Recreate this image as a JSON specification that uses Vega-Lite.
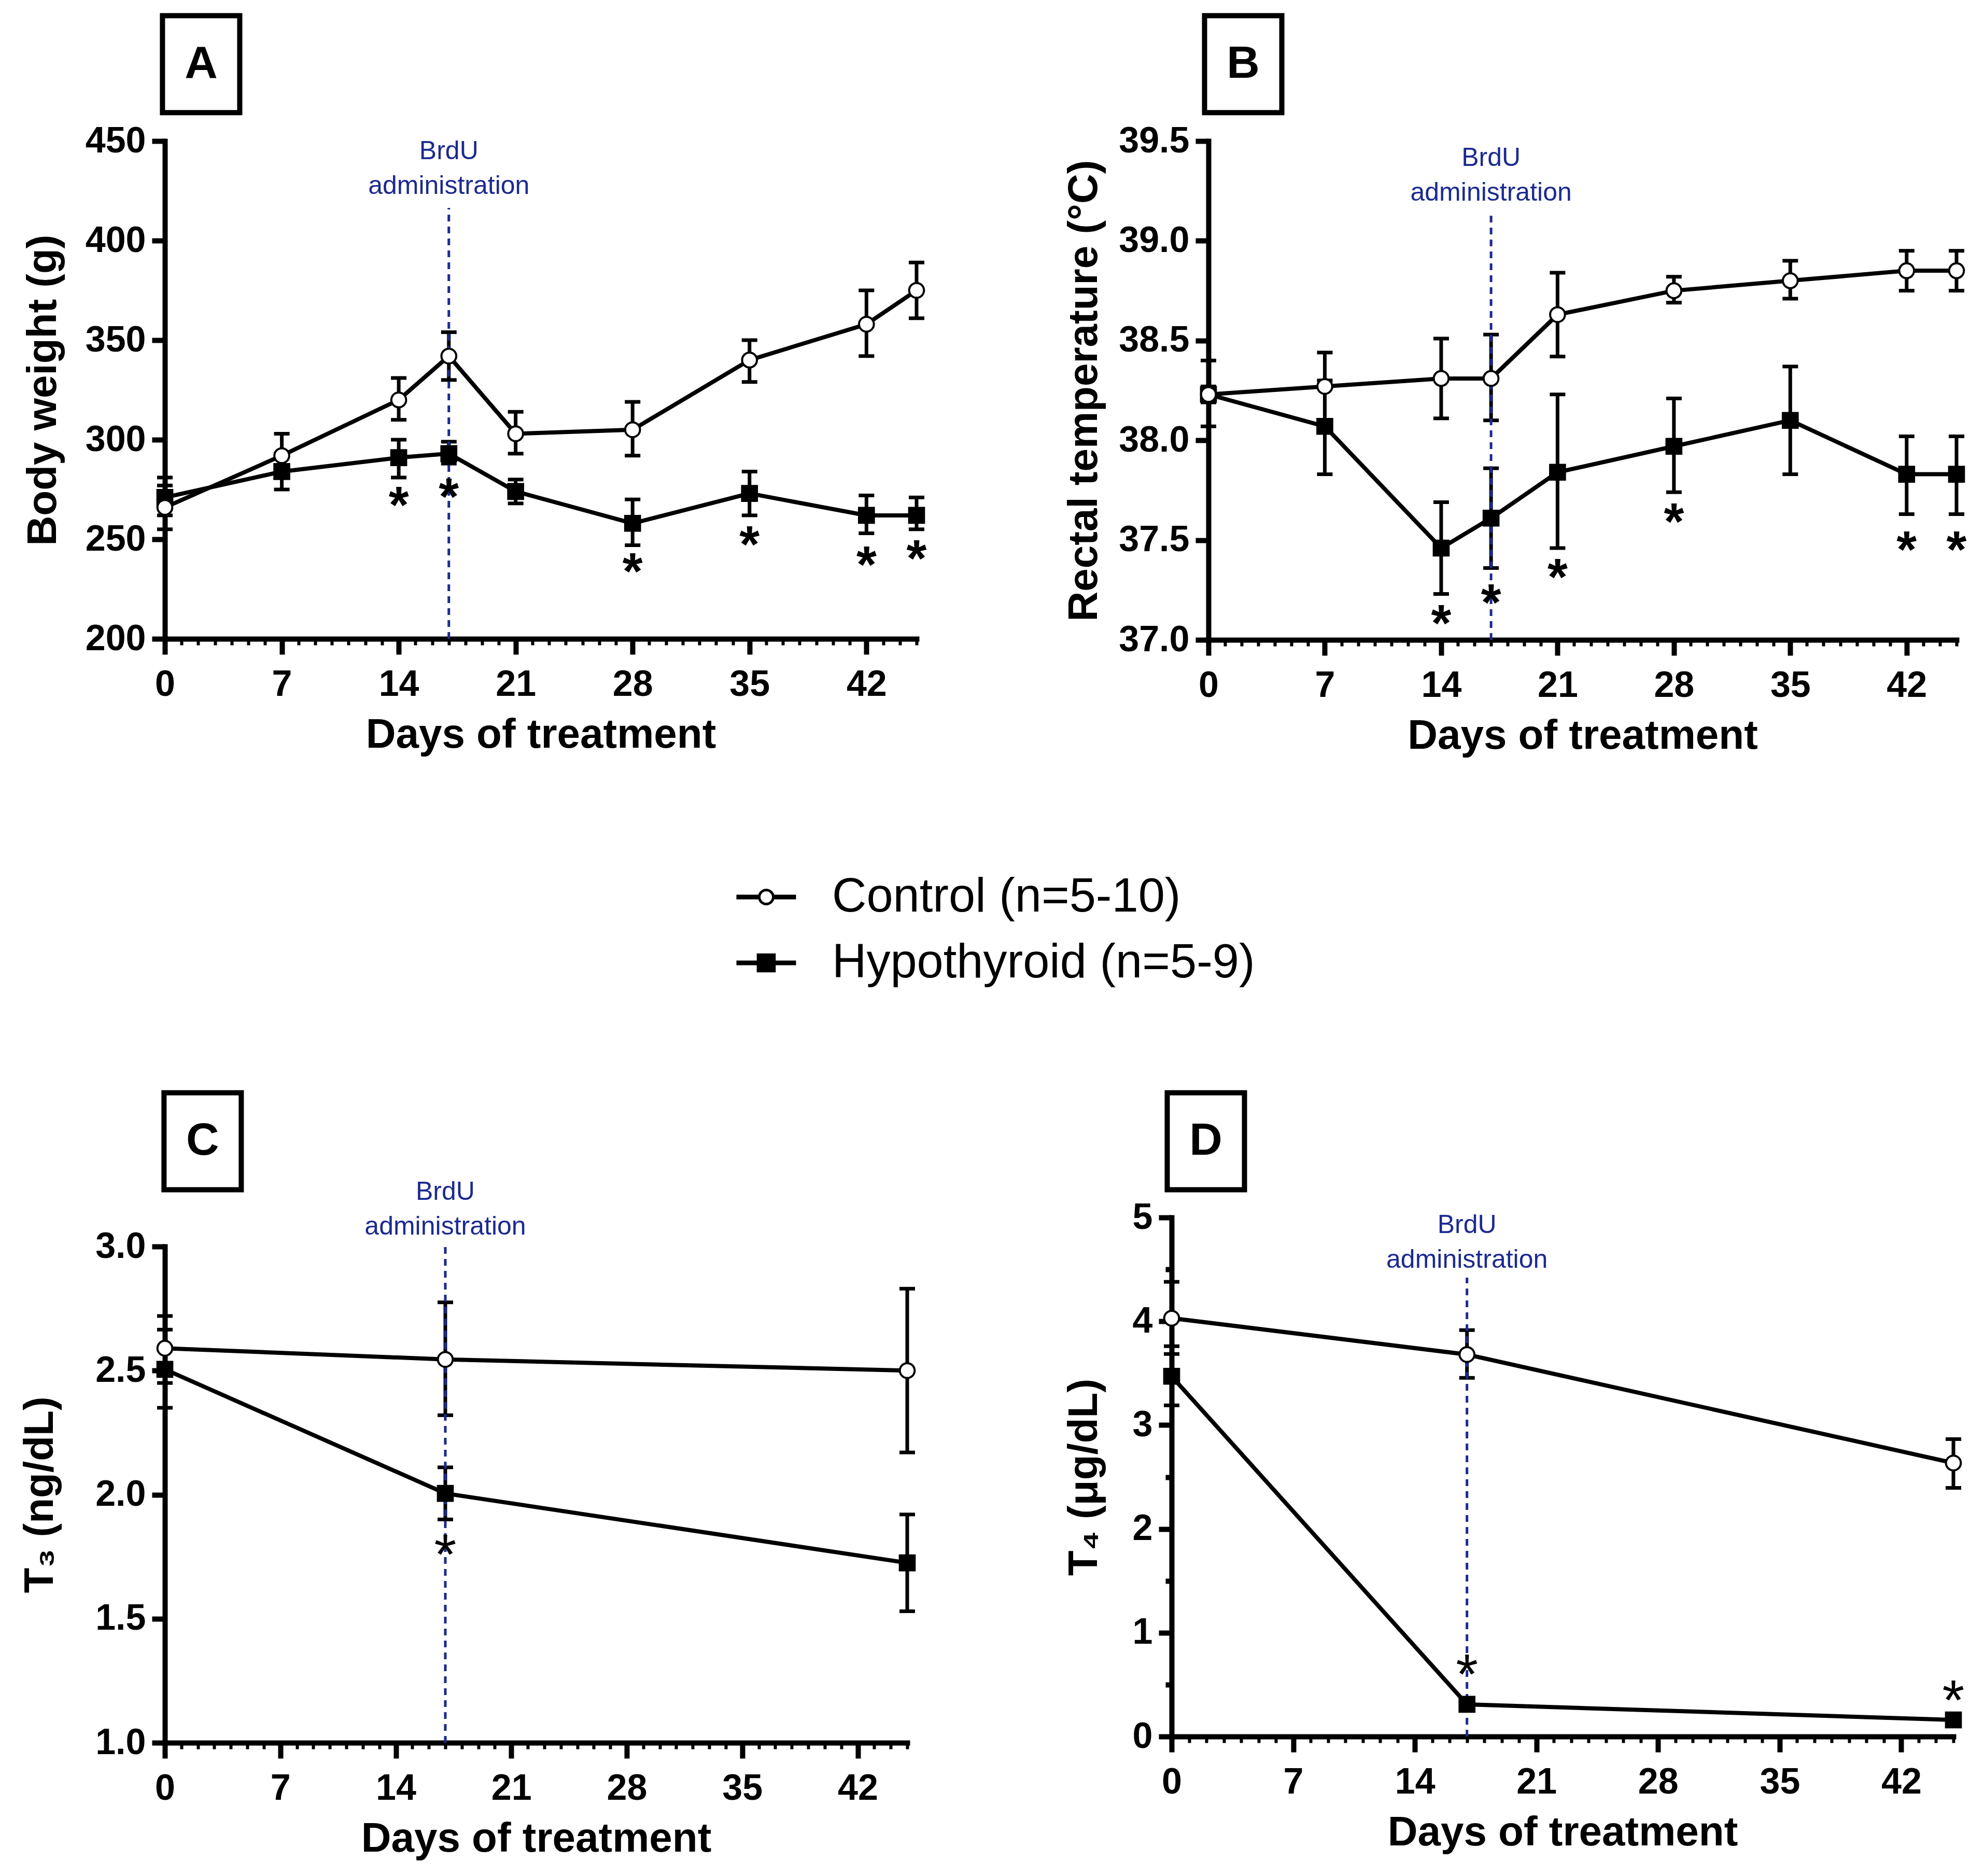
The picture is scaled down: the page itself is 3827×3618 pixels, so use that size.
{
 "$schema": "https://vega.github.io/schema/vega-lite/v6.json",
 "background": "white",
 "padding": {"left": 37, "top": 10, "right": 20, "bottom": 20},
 "datasets": {
  "m": [
   {"panel":"A","group":"Control (n=5-10)","day":0,"mean":266,"lo":255,"hi":277},
   {"panel":"A","group":"Control (n=5-10)","day":7,"mean":292,"lo":281,"hi":303},
   {"panel":"A","group":"Control (n=5-10)","day":14,"mean":320,"lo":310,"hi":331},
   {"panel":"A","group":"Control (n=5-10)","day":17,"mean":342,"lo":330,"hi":354},
   {"panel":"A","group":"Control (n=5-10)","day":21,"mean":303,"lo":293,"hi":314},
   {"panel":"A","group":"Control (n=5-10)","day":28,"mean":305,"lo":292,"hi":319},
   {"panel":"A","group":"Control (n=5-10)","day":35,"mean":340,"lo":329,"hi":350},
   {"panel":"A","group":"Control (n=5-10)","day":42,"mean":358,"lo":342,"hi":375},
   {"panel":"A","group":"Control (n=5-10)","day":45,"mean":375,"lo":361,"hi":389},
   {"panel":"A","group":"Hypothyroid (n=5-9)","day":0,"mean":271,"lo":262,"hi":281},
   {"panel":"A","group":"Hypothyroid (n=5-9)","day":7,"mean":284,"lo":275,"hi":293},
   {"panel":"A","group":"Hypothyroid (n=5-9)","day":14,"mean":291,"lo":281,"hi":300},
   {"panel":"A","group":"Hypothyroid (n=5-9)","day":17,"mean":293,"lo":288,"hi":299},
   {"panel":"A","group":"Hypothyroid (n=5-9)","day":21,"mean":274,"lo":268,"hi":280},
   {"panel":"A","group":"Hypothyroid (n=5-9)","day":28,"mean":258,"lo":247,"hi":270},
   {"panel":"A","group":"Hypothyroid (n=5-9)","day":35,"mean":273,"lo":262,"hi":284},
   {"panel":"A","group":"Hypothyroid (n=5-9)","day":42,"mean":262,"lo":253,"hi":272},
   {"panel":"A","group":"Hypothyroid (n=5-9)","day":45,"mean":262,"lo":255,"hi":271},
   {"panel":"B","group":"Control (n=5-10)","day":0,"mean":38.23,"lo":38.19,"hi":38.27},
   {"panel":"B","group":"Control (n=5-10)","day":7,"mean":38.27,"lo":38.09,"hi":38.44},
   {"panel":"B","group":"Control (n=5-10)","day":14,"mean":38.31,"lo":38.11,"hi":38.51},
   {"panel":"B","group":"Control (n=5-10)","day":17,"mean":38.31,"lo":38.10,"hi":38.53},
   {"panel":"B","group":"Control (n=5-10)","day":21,"mean":38.63,"lo":38.42,"hi":38.84},
   {"panel":"B","group":"Control (n=5-10)","day":28,"mean":38.75,"lo":38.69,"hi":38.82},
   {"panel":"B","group":"Control (n=5-10)","day":35,"mean":38.80,"lo":38.71,"hi":38.90},
   {"panel":"B","group":"Control (n=5-10)","day":42,"mean":38.85,"lo":38.75,"hi":38.95},
   {"panel":"B","group":"Control (n=5-10)","day":45,"mean":38.85,"lo":38.75,"hi":38.95},
   {"panel":"B","group":"Hypothyroid (n=5-9)","day":0,"mean":38.23,"lo":38.07,"hi":38.40},
   {"panel":"B","group":"Hypothyroid (n=5-9)","day":7,"mean":38.07,"lo":37.83,"hi":38.30},
   {"panel":"B","group":"Hypothyroid (n=5-9)","day":14,"mean":37.46,"lo":37.23,"hi":37.69},
   {"panel":"B","group":"Hypothyroid (n=5-9)","day":17,"mean":37.61,"lo":37.36,"hi":37.86},
   {"panel":"B","group":"Hypothyroid (n=5-9)","day":21,"mean":37.84,"lo":37.46,"hi":38.23},
   {"panel":"B","group":"Hypothyroid (n=5-9)","day":28,"mean":37.97,"lo":37.74,"hi":38.21},
   {"panel":"B","group":"Hypothyroid (n=5-9)","day":35,"mean":38.10,"lo":37.83,"hi":38.37},
   {"panel":"B","group":"Hypothyroid (n=5-9)","day":42,"mean":37.83,"lo":37.63,"hi":38.02},
   {"panel":"B","group":"Hypothyroid (n=5-9)","day":45,"mean":37.83,"lo":37.63,"hi":38.02},
   {"panel":"C","group":"Control (n=5-10)","day":0,"mean":2.59,"lo":2.45,"hi":2.72},
   {"panel":"C","group":"Control (n=5-10)","day":17,"mean":2.545,"lo":2.32,"hi":2.775},
   {"panel":"C","group":"Control (n=5-10)","day":45,"mean":2.50,"lo":2.17,"hi":2.83},
   {"panel":"C","group":"Hypothyroid (n=5-9)","day":0,"mean":2.505,"lo":2.35,"hi":2.665},
   {"panel":"C","group":"Hypothyroid (n=5-9)","day":17,"mean":2.005,"lo":1.90,"hi":2.11},
   {"panel":"C","group":"Hypothyroid (n=5-9)","day":45,"mean":1.725,"lo":1.53,"hi":1.92},
   {"panel":"D","group":"Control (n=5-10)","day":0,"mean":4.03,"lo":3.685,"hi":4.38},
   {"panel":"D","group":"Control (n=5-10)","day":17,"mean":3.68,"lo":3.455,"hi":3.915},
   {"panel":"D","group":"Control (n=5-10)","day":45,"mean":2.635,"lo":2.395,"hi":2.865},
   {"panel":"D","group":"Hypothyroid (n=5-9)","day":0,"mean":3.47,"lo":3.19,"hi":3.76},
   {"panel":"D","group":"Hypothyroid (n=5-9)","day":17,"mean":0.31,"lo":0.28,"hi":0.34},
   {"panel":"D","group":"Hypothyroid (n=5-9)","day":45,"mean":0.16,"lo":0.14,"hi":0.18}
  ],
  "sig": [
   {"panel":"A","day":14,"y":272},{"panel":"A","day":17,"y":276},{"panel":"A","day":28,"y":238.5},
   {"panel":"A","day":35,"y":252},{"panel":"A","day":42,"y":242},{"panel":"A","day":45,"y":245},
   {"panel":"B","day":14,"y":37.13},{"panel":"B","day":17,"y":37.235},{"panel":"B","day":21,"y":37.36},
   {"panel":"B","day":28,"y":37.64},{"panel":"B","day":42,"y":37.50},{"panel":"B","day":45,"y":37.50},
   {"panel":"C","day":17,"y":1.80},
   {"panel":"D","day":17,"y":0.70},{"panel":"D","day":45,"y":0.45}
  ],
  "brdu": [
   {"panel":"A","day":17,"base":200,"top":416.4,"label":438.3},
   {"panel":"B","day":17,"base":37.0,"top":39.13,"label":39.35},
   {"panel":"C","day":17,"base":1.0,"top":3.0,"label":3.167},
   {"panel":"D","day":17,"base":0,"top":4.42,"label":4.8}
  ],
  "panels": [
   {"panel":"A","letter":"A"},{"panel":"B","letter":"B"},{"panel":"C","letter":"C"},{"panel":"D","letter":"D"}
  ]
 },
 "columns": 2,
 "align": "none",
 "spacing": {"row": 628, "column": 260},
 "concat": [
   {"width": 1450, "height": 960, "resolve": {"axis": {"x": "independent"}}, "layer": [
    {"data":{"name":"m"},"transform":[{"filter":"datum.panel==='A'"}],"mark":{"type":"line","color":"black","strokeWidth":8},
     "encoding":{"x":{"field":"day","type":"quantitative","scale":{"domain":[0,45],"nice":false},"axis":{"title":"Days of treatment","orient":"bottom","values":[0,7,14,21,28,35,42],"labelOverlap":false,"tickSize":30,"tickWidth":10}},
      "y":{"field":"mean","type":"quantitative","scale":{"domain":[200,450],"nice":false},"axis":{"title":"Body weight (g)","titlePadding":40,"labelOverlap":false,"values":[200,250,300,350,400,450]}},
      "detail":{"field":"group"}}},
    {"data":{"name":"m"},"transform":[{"filter":"datum.panel==='A'"}],"mark":{"type":"rule","color":"black","strokeWidth":7},
     "encoding":{"x":{"field":"day","type":"quantitative","scale":{"domain":[0,45],"nice":false},"axis":{"title":null,"orient":"bottom","values":[0,1,2,3,4,5,6,7,8,9,10,11,12,13,14,15,16,17,18,19,20,21,22,23,24,25,26,27,28,29,30,31,32,33,34,35,36,37,38,39,40,41,42,43,44,45],"labels":false,"domain":false,"tickSize":12,"tickWidth":6}},"y":{"field":"lo","type":"quantitative","scale":{"domain":[200,450],"nice":false}},"y2":{"field":"hi"}}},
    {"data":{"name":"m"},"transform":[{"filter":"datum.panel==='A'"}],"mark":{"type":"tick","orient":"horizontal","color":"black","opacity":1,"size":30,"thickness":7},
     "encoding":{"x":{"field":"day","type":"quantitative","scale":{"domain":[0,45],"nice":false},"axis":null},"y":{"field":"lo","type":"quantitative","scale":{"domain":[200,450],"nice":false}}}},
    {"data":{"name":"m"},"transform":[{"filter":"datum.panel==='A'"}],"mark":{"type":"tick","orient":"horizontal","color":"black","opacity":1,"size":30,"thickness":7},
     "encoding":{"x":{"field":"day","type":"quantitative","scale":{"domain":[0,45],"nice":false},"axis":null},"y":{"field":"hi","type":"quantitative","scale":{"domain":[200,450],"nice":false}}}},
    {"data":{"name":"brdu"},"transform":[{"filter":"datum.panel==='A'"}],"mark":{"type":"rule","color":"#1c2a8f","strokeWidth":5,"strokeDash":[13,10]},
     "encoding":{"x":{"field":"day","type":"quantitative","scale":{"domain":[0,45],"nice":false},"axis":null},"y":{"field":"base","type":"quantitative","scale":{"domain":[200,450],"nice":false}},"y2":{"field":"top"}}},
    {"data":{"name":"brdu"},"transform":[{"filter":"datum.panel==='A'"}],"mark":{"type":"text","text":"BrdU|administration","lineBreak":"|","baseline":"bottom","align":"center","font":"Liberation Sans","fontSize":50,"lineHeight":67,"color":"#1c2a8f"},
     "encoding":{"x":{"field":"day","type":"quantitative","scale":{"domain":[0,45],"nice":false},"axis":null},"y":{"field":"label","type":"quantitative","scale":{"domain":[200,450],"nice":false}}}},
    {"data":{"name":"m"},"transform":[{"filter":"datum.panel==='A' && datum.day === 21"}],"mark":{"type":"point","filled":true,"opacity":0,"size":3306,"strokeWidth":5},
     "encoding":{"x":{"field":"day","type":"quantitative","scale":{"domain":[0,45],"nice":false},"axis":null},"y":{"field":"mean","type":"quantitative","scale":{"domain":[200,450],"nice":false}},
      "shape":{"field":"group","type":"nominal","scale":{"domain":["Control (n=5-10)","Hypothyroid (n=5-9)"],"range":["M-2,-0.07H-0.47M-2,0.07H-0.47M0.47,-0.07H2M0.47,0.07H2M0.47,0A0.47,0.47 0 1,1 -0.47,0A0.47,0.47 0 1,1 0.47,0Z","M-2,-0.07H2M-2,0.07H2M-0.55,-0.55H0.55V0.55H-0.55Z"]},
       "legend":{"orient":"none","legendX":1114,"legendY":1412,"title":null,"symbolSize":3306,"symbolOpacity":1,"symbolStrokeColor":"black","symbolStrokeWidth":5,"labelFont":"Liberation Sans","labelFontSize":92,"labelColor":"black","labelOffset":81,"labelLimit":0,"rowPadding":35,"padding":0}},
      "stroke":{"field":"group","type":"nominal","scale":{"domain":["Control (n=5-10)","Hypothyroid (n=5-9)"],"range":["black","black"]},
       "legend":{"orient":"none","legendX":1114,"legendY":1412,"title":null,"symbolSize":3306,"symbolOpacity":1,"symbolStrokeColor":"black","symbolStrokeWidth":5,"labelFont":"Liberation Sans","labelFontSize":92,"labelColor":"black","labelOffset":81,"labelLimit":0,"rowPadding":35,"padding":0}},
      "fill":{"field":"group","type":"nominal","scale":{"domain":["Control (n=5-10)","Hypothyroid (n=5-9)"],"range":["white","black"]},
       "legend":{"orient":"none","legendX":1114,"legendY":1412,"title":null,"symbolSize":3306,"symbolOpacity":1,"symbolStrokeColor":"black","symbolStrokeWidth":5,"labelFont":"Liberation Sans","labelFontSize":92,"labelColor":"black","labelOffset":81,"labelLimit":0,"rowPadding":35,"padding":0}}}},
    {"data":{"name":"m"},"transform":[{"filter":"datum.panel==='A'"}],"mark":{"type":"point","filled":true,"stroke":"black","strokeWidth":4,"opacity":1,"size":820},
     "encoding":{"x":{"field":"day","type":"quantitative","scale":{"domain":[0,45],"nice":false},"axis":null},"y":{"field":"mean","type":"quantitative","scale":{"domain":[200,450],"nice":false}},
      "order":{"field":"group","sort":"descending"},
      "shape":{"condition":{"test":"datum.group === 'Control (n=5-10)'","value":"circle"},"value":"square"},
      "fill":{"field":"group","type":"nominal","scale":{"domain":["Control (n=5-10)","Hypothyroid (n=5-9)"],"range":["white","black"]},
       "legend":{"orient":"none","legendX":1114,"legendY":1412,"title":null,"symbolSize":3306,"symbolOpacity":1,"symbolStrokeColor":"black","symbolStrokeWidth":5,"labelFont":"Liberation Sans","labelFontSize":92,"labelColor":"black","labelOffset":81,"labelLimit":0,"rowPadding":35,"padding":0}}}},
    {"data":{"name":"sig"},"transform":[{"filter":"datum.panel==='A'"}],"mark":{"type":"text","text":"*","font":"Liberation Sans","fontSize":100,"fontWeight":"bold","baseline":"middle","dy":22,"color":"black"},
     "encoding":{"x":{"field":"day","type":"quantitative","scale":{"domain":[0,45],"nice":false},"axis":null},"y":{"field":"y","type":"quantitative","scale":{"domain":[200,450],"nice":false}}}},
    {"data":{"name":"panels"},"transform":[{"filter":"datum.panel==='A'"}],"mark":{"type":"point","shape":"M-0.797,-1H0.797V1H-0.797Z","size":34969,"filled":false,"stroke":"black","strokeWidth":10,"opacity":1},
     "encoding":{"x":{"datum":2.17,"type":"quantitative","scale":{"domain":[0,45],"nice":false},"axis":null},"y":{"datum":488.6,"type":"quantitative","scale":{"domain":[200,450],"nice":false}}}},
    {"data":{"name":"panels"},"transform":[{"filter":"datum.panel==='A'"}],"mark":{"type":"text","font":"Liberation Sans","fontSize":88,"fontWeight":"bold","baseline":"middle","align":"center","color":"black"},
     "encoding":{"text":{"field":"letter"},"x":{"datum":2.17,"type":"quantitative","scale":{"domain":[0,45],"nice":false},"axis":null},"y":{"datum":488.6,"type":"quantitative","scale":{"domain":[200,450],"nice":false}}}}
   ]},
   {"width": 1443, "height": 962, "resolve": {"axis": {"x": "independent"}}, "layer": [
    {"data":{"name":"m"},"transform":[{"filter":"datum.panel==='B'"}],"mark":{"type":"line","color":"black","strokeWidth":8},
     "encoding":{"x":{"field":"day","type":"quantitative","scale":{"domain":[0,45],"nice":false},"axis":{"title":"Days of treatment","orient":"bottom","values":[0,7,14,21,28,35,42],"labelOverlap":false,"tickSize":30,"tickWidth":10}},
      "y":{"field":"mean","type":"quantitative","scale":{"domain":[37,39.5],"nice":false},"axis":{"title":"Rectal temperature (°C)","labelOverlap":false,"values":[37,37.5,38,38.5,39,39.5],"format":".1f"}},
      "detail":{"field":"group"}}},
    {"data":{"name":"m"},"transform":[{"filter":"datum.panel==='B'"}],"mark":{"type":"rule","color":"black","strokeWidth":7},
     "encoding":{"x":{"field":"day","type":"quantitative","scale":{"domain":[0,45],"nice":false},"axis":{"title":null,"orient":"bottom","values":[0,1,2,3,4,5,6,7,8,9,10,11,12,13,14,15,16,17,18,19,20,21,22,23,24,25,26,27,28,29,30,31,32,33,34,35,36,37,38,39,40,41,42,43,44,45],"labels":false,"domain":false,"tickSize":12,"tickWidth":6}},"y":{"field":"lo","type":"quantitative","scale":{"domain":[37,39.5],"nice":false}},"y2":{"field":"hi"}}},
    {"data":{"name":"m"},"transform":[{"filter":"datum.panel==='B'"}],"mark":{"type":"tick","orient":"horizontal","color":"black","opacity":1,"size":30,"thickness":7},
     "encoding":{"x":{"field":"day","type":"quantitative","scale":{"domain":[0,45],"nice":false},"axis":null},"y":{"field":"lo","type":"quantitative","scale":{"domain":[37,39.5],"nice":false}}}},
    {"data":{"name":"m"},"transform":[{"filter":"datum.panel==='B'"}],"mark":{"type":"tick","orient":"horizontal","color":"black","opacity":1,"size":30,"thickness":7},
     "encoding":{"x":{"field":"day","type":"quantitative","scale":{"domain":[0,45],"nice":false},"axis":null},"y":{"field":"hi","type":"quantitative","scale":{"domain":[37,39.5],"nice":false}}}},
    {"data":{"name":"brdu"},"transform":[{"filter":"datum.panel==='B'"}],"mark":{"type":"rule","color":"#1c2a8f","strokeWidth":5,"strokeDash":[13,10]},
     "encoding":{"x":{"field":"day","type":"quantitative","scale":{"domain":[0,45],"nice":false},"axis":null},"y":{"field":"base","type":"quantitative","scale":{"domain":[37,39.5],"nice":false}},"y2":{"field":"top"}}},
    {"data":{"name":"brdu"},"transform":[{"filter":"datum.panel==='B'"}],"mark":{"type":"text","text":"BrdU|administration","lineBreak":"|","baseline":"bottom","align":"center","font":"Liberation Sans","fontSize":50,"lineHeight":67,"color":"#1c2a8f"},
     "encoding":{"x":{"field":"day","type":"quantitative","scale":{"domain":[0,45],"nice":false},"axis":null},"y":{"field":"label","type":"quantitative","scale":{"domain":[37,39.5],"nice":false}}}},
    {"data":{"name":"m"},"transform":[{"filter":"datum.panel==='B'"}],"mark":{"type":"point","filled":true,"stroke":"black","strokeWidth":4,"opacity":1,"size":820},
     "encoding":{"x":{"field":"day","type":"quantitative","scale":{"domain":[0,45],"nice":false},"axis":null},"y":{"field":"mean","type":"quantitative","scale":{"domain":[37,39.5],"nice":false}},
      "order":{"field":"group","sort":"descending"},
      "shape":{"condition":{"test":"datum.group === 'Control (n=5-10)'","value":"circle"},"value":"square"},
      "fill":{"field":"group","type":"nominal","scale":{"domain":["Control (n=5-10)","Hypothyroid (n=5-9)"],"range":["white","black"]},
       "legend":{"orient":"none","legendX":1114,"legendY":1412,"title":null,"symbolSize":3306,"symbolOpacity":1,"symbolStrokeColor":"black","symbolStrokeWidth":5,"labelFont":"Liberation Sans","labelFontSize":92,"labelColor":"black","labelOffset":81,"labelLimit":0,"rowPadding":35,"padding":0}}}},
    {"data":{"name":"sig"},"transform":[{"filter":"datum.panel==='B'"}],"mark":{"type":"text","text":"*","font":"Liberation Sans","fontSize":100,"fontWeight":"bold","baseline":"middle","dy":22,"color":"black"},
     "encoding":{"x":{"field":"day","type":"quantitative","scale":{"domain":[0,45],"nice":false},"axis":null},"y":{"field":"y","type":"quantitative","scale":{"domain":[37,39.5],"nice":false}}}},
    {"data":{"name":"panels"},"transform":[{"filter":"datum.panel==='B'"}],"mark":{"type":"point","shape":"M-0.797,-1H0.797V1H-0.797Z","size":34969,"filled":false,"stroke":"black","strokeWidth":10,"opacity":1},
     "encoding":{"x":{"datum":2.09,"type":"quantitative","scale":{"domain":[0,45],"nice":false},"axis":null},"y":{"datum":39.885,"type":"quantitative","scale":{"domain":[37,39.5],"nice":false}}}},
    {"data":{"name":"panels"},"transform":[{"filter":"datum.panel==='B'"}],"mark":{"type":"text","font":"Liberation Sans","fontSize":88,"fontWeight":"bold","baseline":"middle","align":"center","color":"black"},
     "encoding":{"text":{"field":"letter"},"x":{"datum":2.09,"type":"quantitative","scale":{"domain":[0,45],"nice":false},"axis":null},"y":{"datum":39.885,"type":"quantitative","scale":{"domain":[37,39.5],"nice":false}}}}
   ]},
   {"width": 1432, "height": 957, "resolve": {"axis": {"x": "independent"}}, "layer": [
    {"data":{"name":"m"},"transform":[{"filter":"datum.panel==='C'"}],"mark":{"type":"line","color":"black","strokeWidth":8},
     "encoding":{"x":{"field":"day","type":"quantitative","scale":{"domain":[0,45],"nice":false},"axis":{"title":"Days of treatment","orient":"bottom","values":[0,7,14,21,28,35,42],"labelOverlap":false,"tickSize":30,"tickWidth":10}},
      "y":{"field":"mean","type":"quantitative","scale":{"domain":[1,3],"nice":false},"axis":{"title":"T₃ (ng/dL)","titlePadding":65,"labelOverlap":false,"values":[1,1.5,2,2.5,3],"format":".1f"}},
      "detail":{"field":"group"}}},
    {"data":{"name":"m"},"transform":[{"filter":"datum.panel==='C'"}],"mark":{"type":"rule","color":"black","strokeWidth":7},
     "encoding":{"x":{"field":"day","type":"quantitative","scale":{"domain":[0,45],"nice":false},"axis":{"title":null,"orient":"bottom","values":[0,1,2,3,4,5,6,7,8,9,10,11,12,13,14,15,16,17,18,19,20,21,22,23,24,25,26,27,28,29,30,31,32,33,34,35,36,37,38,39,40,41,42,43,44,45],"labels":false,"domain":false,"tickSize":12,"tickWidth":6}},"y":{"field":"lo","type":"quantitative","scale":{"domain":[1,3],"nice":false}},"y2":{"field":"hi"}}},
    {"data":{"name":"m"},"transform":[{"filter":"datum.panel==='C'"}],"mark":{"type":"tick","orient":"horizontal","color":"black","opacity":1,"size":30,"thickness":7},
     "encoding":{"x":{"field":"day","type":"quantitative","scale":{"domain":[0,45],"nice":false},"axis":null},"y":{"field":"lo","type":"quantitative","scale":{"domain":[1,3],"nice":false}}}},
    {"data":{"name":"m"},"transform":[{"filter":"datum.panel==='C'"}],"mark":{"type":"tick","orient":"horizontal","color":"black","opacity":1,"size":30,"thickness":7},
     "encoding":{"x":{"field":"day","type":"quantitative","scale":{"domain":[0,45],"nice":false},"axis":null},"y":{"field":"hi","type":"quantitative","scale":{"domain":[1,3],"nice":false}}}},
    {"data":{"name":"brdu"},"transform":[{"filter":"datum.panel==='C'"}],"mark":{"type":"rule","color":"#1c2a8f","strokeWidth":5,"strokeDash":[13,10]},
     "encoding":{"x":{"field":"day","type":"quantitative","scale":{"domain":[0,45],"nice":false},"axis":null},"y":{"field":"base","type":"quantitative","scale":{"domain":[1,3],"nice":false}},"y2":{"field":"top"}}},
    {"data":{"name":"brdu"},"transform":[{"filter":"datum.panel==='C'"}],"mark":{"type":"text","text":"BrdU|administration","lineBreak":"|","baseline":"bottom","align":"center","font":"Liberation Sans","fontSize":50,"lineHeight":67,"color":"#1c2a8f"},
     "encoding":{"x":{"field":"day","type":"quantitative","scale":{"domain":[0,45],"nice":false},"axis":null},"y":{"field":"label","type":"quantitative","scale":{"domain":[1,3],"nice":false}}}},
    {"data":{"name":"m"},"transform":[{"filter":"datum.panel==='C'"}],"mark":{"type":"point","filled":true,"stroke":"black","strokeWidth":4,"opacity":1,"size":820},
     "encoding":{"x":{"field":"day","type":"quantitative","scale":{"domain":[0,45],"nice":false},"axis":null},"y":{"field":"mean","type":"quantitative","scale":{"domain":[1,3],"nice":false}},
      "order":{"field":"group","sort":"descending"},
      "shape":{"condition":{"test":"datum.group === 'Control (n=5-10)'","value":"circle"},"value":"square"},
      "fill":{"field":"group","type":"nominal","scale":{"domain":["Control (n=5-10)","Hypothyroid (n=5-9)"],"range":["white","black"]},
       "legend":{"orient":"none","legendX":1114,"legendY":1412,"title":null,"symbolSize":3306,"symbolOpacity":1,"symbolStrokeColor":"black","symbolStrokeWidth":5,"labelFont":"Liberation Sans","labelFontSize":92,"labelColor":"black","labelOffset":81,"labelLimit":0,"rowPadding":35,"padding":0}}}},
    {"data":{"name":"sig"},"transform":[{"filter":"datum.panel==='C'"}],"mark":{"type":"text","text":"*","font":"Liberation Sans","fontSize":110,"baseline":"middle","dy":24,"color":"black"},
     "encoding":{"x":{"field":"day","type":"quantitative","scale":{"domain":[0,45],"nice":false},"axis":null},"y":{"field":"y","type":"quantitative","scale":{"domain":[1,3],"nice":false}}}},
    {"data":{"name":"panels"},"transform":[{"filter":"datum.panel==='C'"}],"mark":{"type":"point","shape":"M-0.797,-1H0.797V1H-0.797Z","size":34969,"filled":false,"stroke":"black","strokeWidth":10,"opacity":1},
     "encoding":{"x":{"datum":2.29,"type":"quantitative","scale":{"domain":[0,45],"nice":false},"axis":null},"y":{"datum":3.424,"type":"quantitative","scale":{"domain":[1,3],"nice":false}}}},
    {"data":{"name":"panels"},"transform":[{"filter":"datum.panel==='C'"}],"mark":{"type":"text","font":"Liberation Sans","fontSize":88,"fontWeight":"bold","baseline":"middle","align":"center","color":"black"},
     "encoding":{"text":{"field":"letter"},"x":{"datum":2.29,"type":"quantitative","scale":{"domain":[0,45],"nice":false},"axis":null},"y":{"datum":3.424,"type":"quantitative","scale":{"domain":[1,3],"nice":false}}}}
   ]},
   {"width": 1508, "height": 1001, "resolve": {"axis": {"x": "independent"}}, "layer": [
    {"data":{"name":"m"},"transform":[{"filter":"datum.panel==='D'"}],"mark":{"type":"line","color":"black","strokeWidth":8},
     "encoding":{"x":{"field":"day","type":"quantitative","scale":{"domain":[0,45],"nice":false},"axis":{"title":"Days of treatment","orient":"bottom","values":[0,7,14,21,28,35,42],"labelOverlap":false,"tickSize":30,"tickWidth":10}},
      "y":{"field":"mean","type":"quantitative","scale":{"domain":[0,5],"nice":false},"axis":{"title":"T₄ (μg/dL)","titlePadding":52,"labelOverlap":false,"format":".0f","values":[0,0.5,1,1.5,2,2.5,3,3.5,4,4.5,5],"tickSize":{"condition":{"test":"datum.value % 1 === 0","value":25},"value":12},"labelExpr":"datum.value % 1 === 0 ? datum.label : ''"}},
      "detail":{"field":"group"}}},
    {"data":{"name":"m"},"transform":[{"filter":"datum.panel==='D'"}],"mark":{"type":"rule","color":"black","strokeWidth":7},
     "encoding":{"x":{"field":"day","type":"quantitative","scale":{"domain":[0,45],"nice":false},"axis":{"title":null,"orient":"bottom","values":[0,1,2,3,4,5,6,7,8,9,10,11,12,13,14,15,16,17,18,19,20,21,22,23,24,25,26,27,28,29,30,31,32,33,34,35,36,37,38,39,40,41,42,43,44,45],"labels":false,"domain":false,"tickSize":12,"tickWidth":6}},"y":{"field":"lo","type":"quantitative","scale":{"domain":[0,5],"nice":false}},"y2":{"field":"hi"}}},
    {"data":{"name":"m"},"transform":[{"filter":"datum.panel==='D'"}],"mark":{"type":"tick","orient":"horizontal","color":"black","opacity":1,"size":30,"thickness":7},
     "encoding":{"x":{"field":"day","type":"quantitative","scale":{"domain":[0,45],"nice":false},"axis":null},"y":{"field":"lo","type":"quantitative","scale":{"domain":[0,5],"nice":false}}}},
    {"data":{"name":"m"},"transform":[{"filter":"datum.panel==='D'"}],"mark":{"type":"tick","orient":"horizontal","color":"black","opacity":1,"size":30,"thickness":7},
     "encoding":{"x":{"field":"day","type":"quantitative","scale":{"domain":[0,45],"nice":false},"axis":null},"y":{"field":"hi","type":"quantitative","scale":{"domain":[0,5],"nice":false}}}},
    {"data":{"name":"brdu"},"transform":[{"filter":"datum.panel==='D'"}],"mark":{"type":"rule","color":"#1c2a8f","strokeWidth":5,"strokeDash":[13,10]},
     "encoding":{"x":{"field":"day","type":"quantitative","scale":{"domain":[0,45],"nice":false},"axis":null},"y":{"field":"base","type":"quantitative","scale":{"domain":[0,5],"nice":false}},"y2":{"field":"top"}}},
    {"data":{"name":"brdu"},"transform":[{"filter":"datum.panel==='D'"}],"mark":{"type":"text","text":"BrdU|administration","lineBreak":"|","baseline":"bottom","align":"center","font":"Liberation Sans","fontSize":50,"lineHeight":67,"color":"#1c2a8f"},
     "encoding":{"x":{"field":"day","type":"quantitative","scale":{"domain":[0,45],"nice":false},"axis":null},"y":{"field":"label","type":"quantitative","scale":{"domain":[0,5],"nice":false}}}},
    {"data":{"name":"m"},"transform":[{"filter":"datum.panel==='D'"}],"mark":{"type":"point","filled":true,"stroke":"black","strokeWidth":4,"opacity":1,"size":820},
     "encoding":{"x":{"field":"day","type":"quantitative","scale":{"domain":[0,45],"nice":false},"axis":null},"y":{"field":"mean","type":"quantitative","scale":{"domain":[0,5],"nice":false}},
      "order":{"field":"group","sort":"descending"},
      "shape":{"condition":{"test":"datum.group === 'Control (n=5-10)'","value":"circle"},"value":"square"},
      "fill":{"field":"group","type":"nominal","scale":{"domain":["Control (n=5-10)","Hypothyroid (n=5-9)"],"range":["white","black"]},
       "legend":{"orient":"none","legendX":1114,"legendY":1412,"title":null,"symbolSize":3306,"symbolOpacity":1,"symbolStrokeColor":"black","symbolStrokeWidth":5,"labelFont":"Liberation Sans","labelFontSize":92,"labelColor":"black","labelOffset":81,"labelLimit":0,"rowPadding":35,"padding":0}}}},
    {"data":{"name":"sig"},"transform":[{"filter":"datum.panel==='D'"}],"mark":{"type":"text","text":"*","font":"Liberation Sans","fontSize":110,"baseline":"middle","dy":24,"color":"black"},
     "encoding":{"x":{"field":"day","type":"quantitative","scale":{"domain":[0,45],"nice":false},"axis":null},"y":{"field":"y","type":"quantitative","scale":{"domain":[0,5],"nice":false}}}},
    {"data":{"name":"panels"},"transform":[{"filter":"datum.panel==='D'"}],"mark":{"type":"point","shape":"M-0.797,-1H0.797V1H-0.797Z","size":34969,"filled":false,"stroke":"black","strokeWidth":10,"opacity":1},
     "encoding":{"x":{"datum":1.97,"type":"quantitative","scale":{"domain":[0,45],"nice":false},"axis":null},"y":{"datum":5.734,"type":"quantitative","scale":{"domain":[0,5],"nice":false}}}},
    {"data":{"name":"panels"},"transform":[{"filter":"datum.panel==='D'"}],"mark":{"type":"text","font":"Liberation Sans","fontSize":88,"fontWeight":"bold","baseline":"middle","align":"center","color":"black"},
     "encoding":{"text":{"field":"letter"},"x":{"datum":1.97,"type":"quantitative","scale":{"domain":[0,45],"nice":false},"axis":null},"y":{"datum":5.734,"type":"quantitative","scale":{"domain":[0,5],"nice":false}}}}
   ]}
 ],
 "config": {
  "view": {"stroke": null},
  "font": "Liberation Sans",
  "axis": {"domainColor":"black","domainWidth":10,"domainCap":"square","tickColor":"black","tickWidth":10,"tickSize":25,"labelFont":"Liberation Sans","labelFontSize":70,"labelFontWeight":"bold","labelColor":"black","labelPadding":12,"titleFont":"Liberation Sans","titleFontSize":80,"titleFontWeight":"bold","titleColor":"black","grid":false,"labelFlush":false,"labelOverlap":false},
  "axisX": {"titlePadding": 23, "labelPadding": 24},
  "axisY": {"titlePadding": 25}
 }
}
